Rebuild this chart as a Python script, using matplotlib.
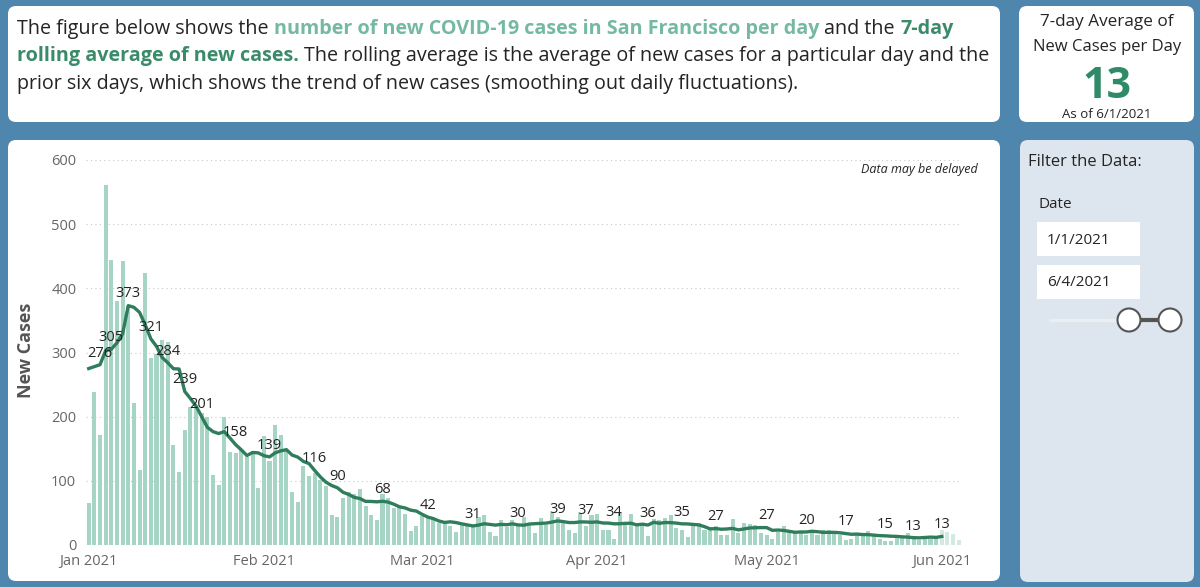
import numpy as np
import pandas as pd
import matplotlib
matplotlib.use('Agg')
import matplotlib.pyplot as plt
import matplotlib.dates as mdates
from matplotlib.patches import FancyBboxPatch, Circle

plt.rcParams['font.family'] = ['Open Sans', 'DejaVu Sans']

# daily new cases, Jan 1 .. Jun 4 2021
jan = [66, 239, 172, 561, 444, 380, 442, 373, 221, 117, 424, 292, 298, 320, 316,
       156, 114, 179, 215, 215, 205, 200, 109, 93, 200, 145, 143, 149, 137, 142, 89]
feb = [170, 131, 187, 171, 150, 83, 67, 123, 107, 112, 101, 92, 47, 43, 74,
       83, 80, 88, 61, 46, 39, 80, 74, 57, 60, 48, 22, 29]
mar = [45, 44, 40, 34, 32, 29, 21, 31, 32, 29, 43, 47, 21, 14, 39, 28,
       39, 31, 44, 34, 18, 42, 31, 50, 44, 36, 24, 18, 49, 30, 47]
apr = [48, 24, 23, 10, 50, 34, 48, 31, 31, 14, 40, 39, 42, 47, 26,
       23, 13, 34, 34, 23, 23, 29, 16, 16, 40, 18, 34, 33, 31, 18]
may = [16, 10, 21, 30, 23, 21, 21, 16, 18, 16, 23, 23, 21, 16, 8, 10,
       18, 18, 22, 16, 10, 6, 6, 16, 13, 19, 10, 8, 10, 10, 13]
jun = [23, 21, 17, 8]
# last days of December 2020, needed to start the 7-day average
dec_tail = [218, 151, 407, 430, 309, 344]

as_of = '2021-06-01'
label_dates = ['2021-01-03', '2021-01-05', '2021-01-08', '2021-01-12', '2021-01-15',
               '2021-01-18', '2021-01-21', '2021-01-27', '2021-02-02', '2021-02-10',
               '2021-02-14', '2021-02-22', '2021-03-02', '2021-03-10', '2021-03-18',
               '2021-03-25', '2021-03-30', '2021-04-04', '2021-04-10', '2021-04-16',
               '2021-04-22', '2021-05-01', '2021-05-08', '2021-05-15', '2021-05-22',
               '2021-05-27', '2021-06-01']
label_vals = [276, 305, 373, 321, 284, 239, 201, 158, 139, 116, 90, 68, 42, 31, 30,
              39, 37, 34, 36, 35, 27, 27, 20, 17, 15, 13, 13]

BG = '#4f86ad'
BAR = '#a7d5c5'
BAR_LATE = '#d3eae2'
LINE = '#2f7d5d'
TXT = '#252423'

daily = jan + feb + mar + apr + may + jun
dates = pd.date_range('2021-01-01', periods=len(daily))
s = pd.Series(dec_tail + daily, index=pd.date_range('2020-12-26', periods=len(daily) + 6))
avg = s.rolling(7).mean().loc['2021-01-01':as_of]

W, H = 1200, 587
fig = plt.figure(figsize=(W / 100, H / 100), dpi=100)
fig.patch.set_facecolor(BG)
bg = fig.add_axes([0, 0, 1, 1])
bg.set_xlim(0, W)
bg.set_ylim(H, 0)
bg.axis('off')


def panel(x0, y0, x1, y1, fc, r=8):
    bg.add_patch(FancyBboxPatch((x0, y0), x1 - x0, y1 - y0,
                                boxstyle=f'round,pad=0,rounding_size={r}',
                                fc=fc, ec='none'))


panel(8, 6, 1000, 122, 'white')
panel(1019, 6, 1194, 122, 'white')
panel(8, 140, 1000, 581, 'white')
panel(1020, 140, 1194, 582, '#dde6ee')

# header paragraph with coloured runs
renderer = fig.canvas.get_renderer()
HSIZE = 14.2


def width_of(txt, **kw):
    t = bg.text(0, 0, txt, fontsize=HSIZE, **kw)
    w = t.get_window_extent(renderer).width
    t.remove()
    return w


space = width_of('x x') - width_of('xx')
lines = [
    [('The figure below shows the', TXT, 'normal'),
     ('number of new COVID-19 cases in San Francisco per day', '#74b9a1', 'bold'),
     ('and the', TXT, 'normal'),
     ('7-day', '#3b8b6b', 'bold')],
    [('rolling average of new cases.', '#3b8b6b', 'bold'),
     ('The rolling average is the average of new cases for a particular day and the', TXT, 'normal')],
    [('prior six days, which shows the trend of new cases (smoothing out daily fluctuations).', TXT, 'normal')],
]
for row, parts in enumerate(lines):
    x = 17
    y = 34 + row * 27.5
    for txt, col, wt in parts:
        t = bg.text(x, y, txt, fontsize=HSIZE, color=col, fontweight=wt, va='baseline')
        x += t.get_window_extent(renderer).width + space

# KPI card
bg.text(1107, 22, '7-day Average of', fontsize=12.3, color=TXT, ha='center', va='center')
bg.text(1107, 47, 'New Cases per Day', fontsize=12, color=TXT, ha='center', va='center')
bg.text(1107, 87, str(label_vals[-1]), fontsize=31, color='#2f8a67', fontweight='bold',
        ha='center', va='center')
bg.text(1107, 115, 'As of 6/1/2021', fontsize=9.5, color=TXT, ha='center', va='center')

# filter panel
bg.text(1028, 162, 'Filter the Data:', fontsize=12, color=TXT, va='center')
bg.text(1038, 205, 'Date', fontsize=11, color=TXT, va='center')
for y0, txt in [(222, '1/1/2021'), (265, '6/4/2021')]:
    panel(1037, y0, 1140, y0 + 34, 'white', r=0.1)
    bg.text(1047, y0 + 18, txt, fontsize=11, color=TXT, va='center')
bg.plot([1050, 1129], [320, 320], color='#e8eef2', lw=2.5, solid_capstyle='round')
bg.plot([1129, 1170], [320, 320], color='#555555', lw=3)
for cx in (1129, 1170):
    bg.add_patch(Circle((cx, 320), 11.5, fc='white', ec='#555555', lw=1.5, zorder=3))

# chart
bg.text(26, 350, 'New Cases', rotation=90, fontsize=13, fontweight='bold',
        color='#555555', ha='center', va='center')
bg.text(978, 170, 'Data may be delayed', fontsize=9, style='italic', color=TXT,
        ha='right', va='center')

ax = fig.add_axes([86 / W, (H - 545) / H, (961 - 86) / W, (545 - 160) / H])
ax.patch.set_alpha(0)
late = dates >= pd.Timestamp(as_of)
ax.bar(dates[~late], np.array(daily)[~late], width=0.72, color=BAR, zorder=2)
ax.bar(dates[late], np.array(daily)[late], width=0.72, color=BAR_LATE, zorder=2)
ax.plot(avg.index, avg.values, color=LINE, lw=2.4, zorder=3)
for d, v in zip(label_dates, label_vals):
    ax.annotate(str(v), (pd.Timestamp(d), avg.loc[d]), xytext=(0, 3),
                textcoords='offset points', ha='center', va='bottom',
                fontsize=10.5, color=TXT, zorder=4)

ax.set_ylim(0, 600)
ax.set_yticks(range(0, 601, 100))
x0 = mdates.date2num(dates[0])
ax.set_xlim(x0 - 0.48, x0 + 154.4)
ax.set_xticks(pd.date_range('2021-01-01', '2021-06-01', freq='MS'))
ax.xaxis.set_major_formatter(mdates.DateFormatter('%b %Y'))
ax.tick_params(axis='both', length=0, colors='#666666', labelsize=10.5)
ax.tick_params(axis='y', pad=7)
ax.tick_params(axis='x', pad=6.5)
ax.grid(axis='y', color='#c8c8c8', linestyle=(0, (1, 3)), linewidth=0.8, zorder=0)
for sp in ax.spines.values():
    sp.set_visible(False)

fig.savefig('out.png', dpi=100, facecolor=BG)
